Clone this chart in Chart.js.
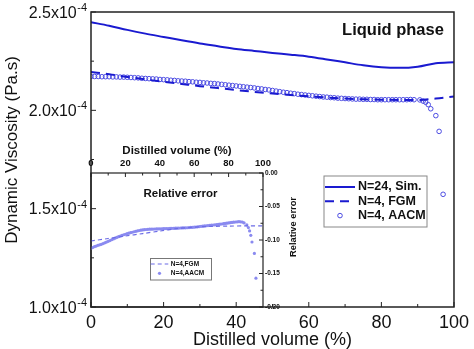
<!DOCTYPE html>
<html lang="en">
<head>
<meta charset="UTF-8">
<title>Liquid phase viscosity</title>
<script src="https://cdn.jsdelivr.net/npm/chart.js"></script>
<style>
  body { margin: 0; background: #fff; }
  #wrap { position: relative; width: 474px; height: 349px; }
  #mainChart { position: absolute; left: 0; top: 0; }
  #insetChart { position: absolute; left: 60px; top: 140px; }
</style>
</head>
<body>
<div id="wrap">
  <canvas id="mainChart" width="474" height="349"></canvas>
  <canvas id="insetChart" width="250" height="175"></canvas>
</div>
<script>
// distilled volume (%) for the two line series
const lineVol = [0, 5, 10, 15, 20, 25, 30, 35, 40, 45, 50, 55, 60, 65, 70, 75, 80, 85, 90, 95, 100];
// dynamic viscosity, x10^-4 Pa.s
const simVisc = [2.448, 2.430, 2.409, 2.390, 2.373, 2.356, 2.340, 2.326, 2.312, 2.302, 2.292,
                 2.283, 2.273, 2.259, 2.244, 2.229, 2.219, 2.216, 2.222, 2.240, 2.245];
const fgmVisc = [2.195, 2.184, 2.170, 2.157, 2.145, 2.134, 2.123, 2.113, 2.103, 2.094, 2.086,
                 2.078, 2.071, 2.065, 2.060, 2.056, 2.054, 2.053, 2.053, 2.060, 2.071];

// AACM points (distilled volume %)
const aacmVol = [0, 1, 2, 3, 4, 5, 6, 7, 8, 9,
                 10, 11, 12, 13, 14, 15, 16, 17, 18, 19,
                 20, 21, 22, 23, 24, 25, 26, 27, 28, 29,
                 30, 31, 32, 33, 34, 35, 36, 37, 38, 39,
                 40, 41, 42, 43, 44, 45, 46, 47, 48, 49,
                 50, 51, 52, 53, 54, 55, 56, 57, 58, 59,
                 60, 61, 62, 63, 64, 65, 66, 67, 68, 69,
                 70, 71, 72, 73, 74, 75, 76, 77, 78, 79,
                 80, 81, 82, 83, 84, 85, 86, 87, 88, 89,
                 90.6, 91.5, 92.2, 92.9, 93.6, 95.0, 95.9, 97.0];
const aacmVisc = [2.172, 2.172, 2.172, 2.171, 2.171, 2.171, 2.170, 2.170, 2.169, 2.169,
                  2.168, 2.167, 2.166, 2.165, 2.163, 2.162, 2.161, 2.160, 2.159, 2.157,
                  2.156, 2.155, 2.153, 2.152, 2.150, 2.149, 2.148, 2.146, 2.145, 2.143,
                  2.142, 2.140, 2.139, 2.137, 2.136, 2.134, 2.132, 2.130, 2.128, 2.126,
                  2.124, 2.122, 2.120, 2.118, 2.116, 2.114, 2.111, 2.109, 2.106, 2.104,
                  2.101, 2.098, 2.095, 2.092, 2.090, 2.087, 2.085, 2.082, 2.080, 2.078,
                  2.076, 2.074, 2.072, 2.070, 2.068, 2.067, 2.065, 2.064, 2.062, 2.061,
                  2.060, 2.059, 2.058, 2.057, 2.057, 2.056, 2.056, 2.055, 2.055, 2.054,
                  2.054, 2.054, 2.054, 2.054, 2.054, 2.054, 2.054, 2.054, 2.055, 2.054,
                  2.053, 2.047, 2.041, 2.029, 2.008, 1.973, 1.893, 1.573];

// relative error (inset)
const errVol = [0, 10, 20, 30, 40, 50, 60, 70, 80, 90, 100];
const fgmErr = [-0.1015, -0.0978, -0.0941, -0.0904, -0.0867, -0.0830, -0.0808, -0.0797, -0.0792, -0.0790, -0.0790];
const aacmErr = [-0.1125, -0.1112, -0.1100, -0.1090, -0.1080, -0.1072, -0.1065, -0.1053, -0.1042, -0.1031,
                 -0.1020, -0.1008, -0.0996, -0.0984, -0.0973, -0.0962, -0.0950, -0.0940, -0.0931, -0.0922,
                 -0.0914, -0.0906, -0.0898, -0.0891, -0.0884, -0.0877, -0.0870, -0.0864, -0.0858, -0.0853,
                 -0.0849, -0.0846, -0.0843, -0.0841, -0.0839, -0.0838, -0.0837, -0.0836, -0.0835, -0.0834,
                 -0.0833, -0.0832, -0.0831, -0.0830, -0.0829, -0.0828, -0.0827, -0.0826, -0.0825, -0.0824,
                 -0.0823, -0.0822, -0.0821, -0.0820, -0.0819, -0.0818, -0.0817, -0.0815, -0.0813, -0.0811,
                 -0.0808, -0.0806, -0.0803, -0.0800, -0.0796, -0.0793, -0.0790, -0.0787, -0.0784, -0.0781,
                 -0.0778, -0.0776, -0.0773, -0.0770, -0.0767, -0.0764, -0.0761, -0.0757, -0.0753, -0.0749,
                 -0.0745, -0.0741, -0.0737, -0.0734, -0.0731, -0.0728, -0.0727, -0.0728, -0.0733, -0.0745,
                 -0.0775, -0.0815, -0.0865, -0.0930, -0.1030, -0.1200, -0.1570, -0.3000];

// tick positions
const volMajor = [0, 20, 40, 60, 80, 100];
const volMinor = [10, 30, 50, 70, 90];
const viscMajor = [1.0, 1.5, 2.0, 2.5];
const viscMinor = [1.25, 1.75, 2.25];
const errMajor = [0, -0.05, -0.10, -0.15, -0.20];
const errMinor = [-0.025, -0.075, -0.125, -0.175];
const viscExponent = '-4';

const FONT = '"Liberation Sans", Arial, sans-serif';
const pts = (xs, ys) => xs.map((x, i) => ({ x: x, y: ys[i] }));

// box around the plot plus inward tick marks
const frame = {
  id: 'frame',
  afterDatasetsDraw(chart, args, o) {
    const { ctx, chartArea: a, scales } = chart;
    ctx.save();
    ctx.strokeStyle = o.color;
    ctx.lineWidth = o.width;
    ctx.strokeRect(a.left, a.top, a.right - a.left, a.bottom - a.top);
    ctx.lineWidth = 1;
    const marks = (scale, vals, len, edge) => vals.forEach(v => {
      const p = scale.getPixelForValue(v);
      ctx.beginPath();
      if (edge === 'bottom') { ctx.moveTo(p, a.bottom); ctx.lineTo(p, a.bottom - len); }
      else if (edge === 'top') { ctx.moveTo(p, a.top); ctx.lineTo(p, a.top + len); }
      else if (edge === 'left') { ctx.moveTo(a.left, p); ctx.lineTo(a.left + len, p); }
      else { ctx.moveTo(a.right, p); ctx.lineTo(a.right - len, p); }
      ctx.stroke();
    });
    marks(scales.x, o.xMajor, o.major, o.xEdge);
    marks(scales.x, o.xMinor, o.minor, o.xEdge);
    marks(scales.y, o.yMajor, o.major, o.yEdge);
    marks(scales.y, o.yMinor, o.minor, o.yEdge);
    ctx.restore();
  }
};

// y tick labels written as mantissa x10 with a raised exponent
const sciLabels = {
  id: 'sciLabels',
  afterDraw(chart, args, o) {
    const ctx = chart.ctx;
    const ys = chart.scales.y;
    ctx.save();
    ctx.fillStyle = '#111';
    ctx.textBaseline = 'alphabetic';
    ys.ticks.forEach(t => {
      const y = ys.getPixelForValue(t.value) + o.baseShift;
      ctx.font = o.expFont;
      const ew = ctx.measureText(o.exp).width;
      ctx.textAlign = 'right';
      ctx.fillText(o.exp, o.right, y - o.raise);
      ctx.font = o.font;
      ctx.fillText(t.value.toFixed(1) + 'x10', o.right - ew - 0.5, y);
    });
    ctx.restore();
  }
};

// framed legend drawn inside the plot
const boxLegend = {
  id: 'boxLegend',
  afterDraw(chart, args, o) {
    const ctx = chart.ctx;
    const [bx, by, bw, bh] = o.box;
    ctx.save();
    ctx.fillStyle = '#fff';
    ctx.fillRect(bx, by, bw, bh);
    ctx.strokeStyle = o.border;
    ctx.lineWidth = 1;
    ctx.strokeRect(bx, by, bw, bh);
    ctx.font = o.font;
    ctx.textBaseline = 'middle';
    chart.data.datasets.forEach((ds, i) => {
      const y = by + o.firstRow + i * o.rowH;
      ctx.save();
      if (ds.showLine) {
        ctx.strokeStyle = ds.borderColor;
        ctx.lineWidth = ds.borderWidth;
        ctx.setLineDash(ds.borderDash || []);
        ctx.beginPath();
        ctx.moveTo(o.sample[0], y);
        ctx.lineTo(o.sample[1], y);
        ctx.stroke();
      } else {
        ctx.beginPath();
        ctx.arc((o.sample[0] + o.sample[1]) / 2, y, ds.pointRadius, 0, Math.PI * 2);
        if (ds.pointBorderWidth) {
          ctx.strokeStyle = ds.pointBorderColor;
          ctx.lineWidth = ds.pointBorderWidth;
          ctx.stroke();
        } else {
          ctx.fillStyle = ds.pointBackgroundColor;
          ctx.fill();
        }
      }
      ctx.restore();
      ctx.fillStyle = '#111';
      ctx.fillText(ds.label, o.textX, y);
    });
    ctx.restore();
  }
};

// free text labels
const notes = {
  id: 'notes',
  afterDraw(chart, args, o) {
    const ctx = chart.ctx;
    (o.items || []).forEach(n => {
      ctx.save();
      ctx.translate(n.x, n.y);
      if (n.rotate) ctx.rotate(n.rotate);
      ctx.font = n.font;
      ctx.fillStyle = '#111';
      ctx.textAlign = 'center';
      ctx.textBaseline = 'middle';
      ctx.fillText(n.text, 0, 0);
      ctx.restore();
    });
  }
};

new Chart(document.getElementById('mainChart'), {
  type: 'scatter',
  data: {
    datasets: [{
      label: 'N=24, Sim.',
      data: pts(lineVol, simVisc),
      showLine: true,
      borderColor: '#1a1ad0',
      borderWidth: 2,
      pointRadius: 0,
      tension: 0.4,
      cubicInterpolationMode: 'monotone'
    }, {
      label: 'N=4, FGM',
      data: pts(lineVol, fgmVisc),
      showLine: true,
      borderColor: '#1a1ad0',
      borderWidth: 2,
      borderDash: [9, 6],
      pointRadius: 0,
      tension: 0.4,
      cubicInterpolationMode: 'monotone'
    }, {
      label: 'N=4, AACM',
      data: pts(aacmVol, aacmVisc),
      showLine: false,
      pointRadius: 2.3,
      pointBorderWidth: 1,
      pointBorderColor: '#4c4ce2',
      pointBackgroundColor: 'rgba(0,0,0,0)'
    }]
  },
  options: {
    responsive: false,
    animation: false,
    events: [],
    layout: { padding: { top: 12, right: 16, left: 0, bottom: 0 } },
    scales: {
      x: {
        type: 'linear', min: 0, max: 100,
        afterFit: s => { s.height = 42; },
        grid: { display: false, drawTicks: false },
        border: { display: false },
        ticks: { stepSize: 20, padding: 5, color: '#111', font: { family: FONT, size: 18 } },
        title: { display: true, text: 'Distilled volume (%)', color: '#111',
                 font: { family: FONT, size: 18, lineHeight: 1 }, padding: { top: 0, bottom: 0 } }
      },
      y: {
        type: 'linear', min: 1.0, max: 2.5,
        afterFit: s => { s.width = 91; },
        grid: { display: false, drawTicks: false },
        border: { display: false },
        ticks: { display: false, stepSize: 0.5 }
      }
    },
    plugins: {
      legend: { display: false },
      tooltip: { enabled: false },
      frame: { color: '#222', width: 1.5, major: 5, minor: 3, xEdge: 'bottom', yEdge: 'left',
               xMajor: volMajor, xMinor: volMinor, yMajor: viscMajor, yMinor: viscMinor },
      sciLabels: { right: 87, baseShift: 5.5, raise: 6.5, exp: viscExponent,
                   font: '16px ' + FONT, expFont: '11px ' + FONT },
      boxLegend: { box: [324, 176, 103, 51], border: '#888', firstRow: 11, rowH: 14.3,
                   sample: [325, 355], textX: 358, font: 'bold 12.5px ' + FONT },
      notes: { items: [
        { text: 'Liquid phase', x: 393, y: 30, font: 'bold 16.5px ' + FONT },
        { text: 'Dynamic Viscosity (Pa.s)', x: 12.5, y: 150, font: '17px ' + FONT, rotate: -Math.PI / 2 }
      ] }
    }
  },
  plugins: [frame, sciLabels, boxLegend, notes]
});

new Chart(document.getElementById('insetChart'), {
  type: 'scatter',
  data: {
    datasets: [{
      label: 'N=4,FGM',
      data: pts(errVol, fgmErr),
      showLine: true,
      borderColor: '#6b6be6',
      borderWidth: 1.2,
      borderDash: [4, 3],
      pointRadius: 0,
      tension: 0.3
    }, {
      label: 'N=4,AACM',
      data: pts(aacmVol, aacmErr),
      showLine: false,
      pointRadius: 1.6,
      pointBorderWidth: 0,
      pointBackgroundColor: '#8a8af0'
    }]
  },
  options: {
    responsive: false,
    animation: false,
    events: [],
    layout: { padding: { top: 0, right: 0, left: 31, bottom: 8 } },
    scales: {
      x: {
        type: 'linear', position: 'top', min: 0, max: 100,
        afterFit: s => { s.height = 33; },
        grid: { display: false, drawTicks: false },
        border: { display: false },
        ticks: { stepSize: 20, padding: 4, color: '#111', font: { family: FONT, size: 9.5, weight: 'bold' } },
        title: { display: true, text: 'Distilled volume (%)', color: '#111',
                 font: { family: FONT, size: 11.5, weight: 'bold' }, padding: { top: 4, bottom: 0 } }
      },
      y: {
        type: 'linear', position: 'right', min: -0.2, max: 0,
        afterFit: s => { s.width = 47; },
        grid: { display: false, drawTicks: false },
        border: { display: false },
        ticks: { stepSize: 0.05, padding: 2, color: '#111', font: { family: FONT, size: 6.5, weight: 'bold' },
                 callback: v => Math.abs(v) < 1e-9 ? '0.00' : v.toFixed(2) }
      }
    },
    plugins: {
      legend: { display: false },
      tooltip: { enabled: false },
      frame: { color: '#222', width: 1.2, major: 4, minor: 2.5, xEdge: 'top', yEdge: 'right',
               xMajor: volMajor, xMinor: volMinor, yMajor: errMajor, yMinor: errMinor },
      boxLegend: { box: [90.5, 118.5, 61, 21.5], border: '#777', firstRow: 5.5, rowH: 9.3,
                   sample: [90.7, 108.3], textX: 110.7, font: 'bold 6.5px ' + FONT },
      notes: { items: [
        { text: 'Relative error', x: 120.5, y: 54.3, font: 'bold 11.5px ' + FONT },
        { text: 'Relative error', x: 233, y: 87, font: 'bold 9.3px ' + FONT, rotate: -Math.PI / 2 }
      ] }
    }
  },
  plugins: [frame, boxLegend, notes]
});
</script>
</body>
</html>
